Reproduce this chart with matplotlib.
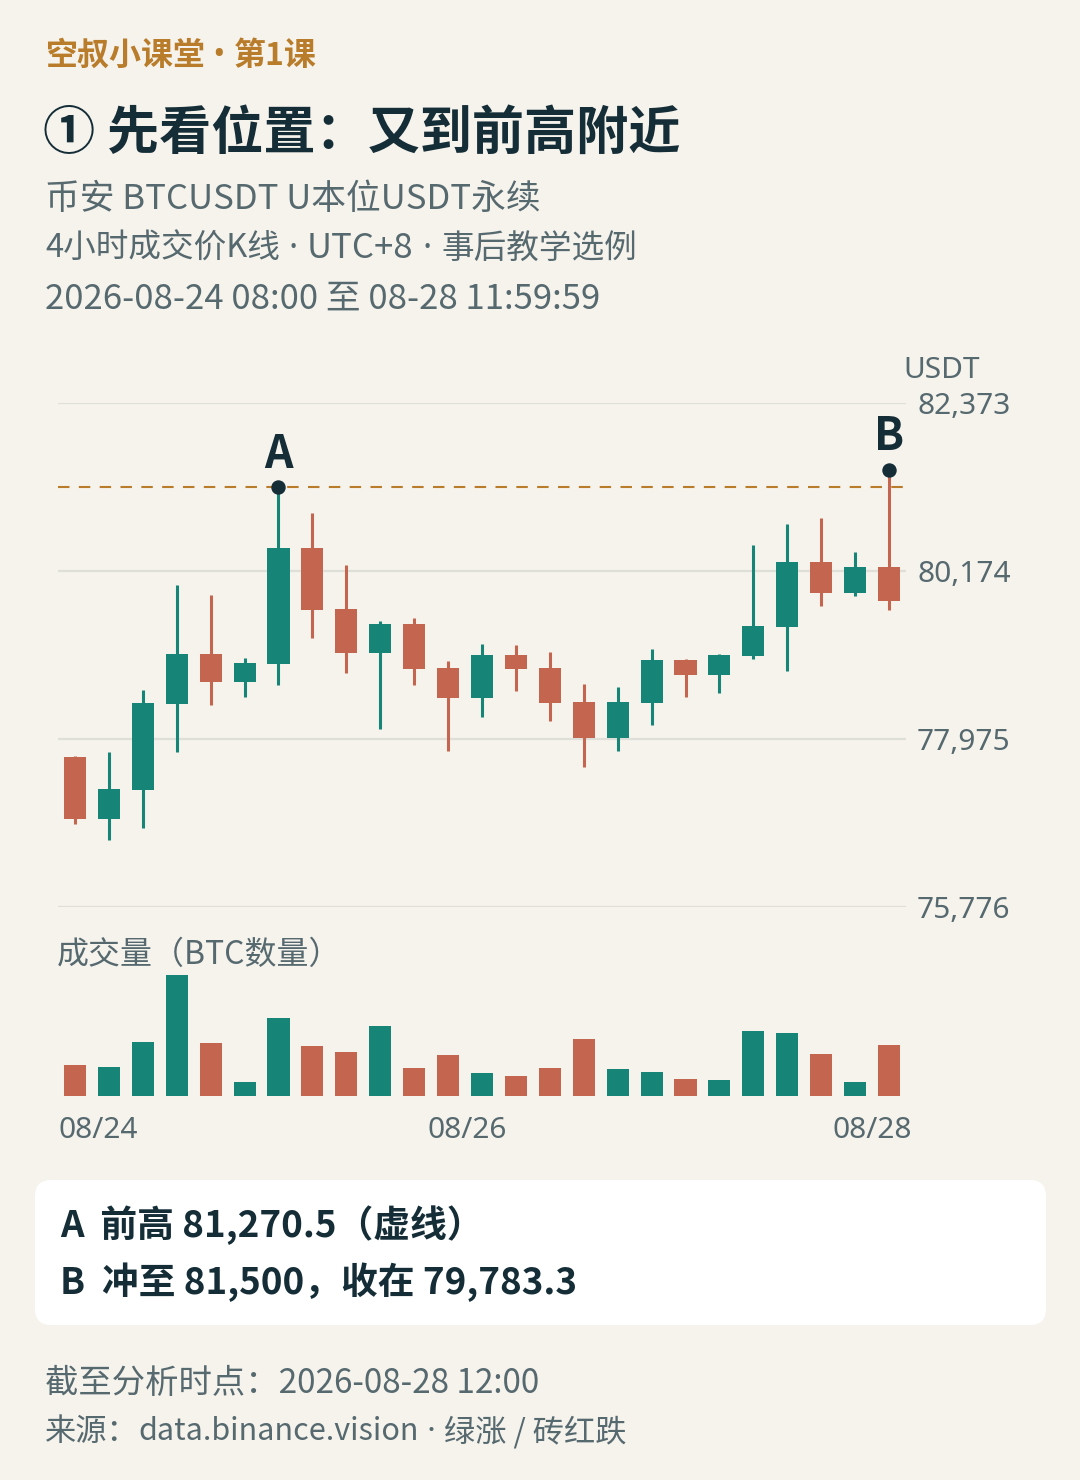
import matplotlib
matplotlib.use("Agg")
import matplotlib.pyplot as plt
from matplotlib.patches import FancyBboxPatch
from matplotlib.transforms import IdentityTransform, blended_transform_factory

plt.rcParams['font.family'] = ['Noto Sans CJK SC', 'DejaVu Sans']

# 4h candles, 2026-08-24 08:00 .. 2026-08-28 08:00 (UTC+8)
opens = [77740, 76928, 77308, 78433, 79088, 78721, 78957, 80475, 79677, 79101,
         79480, 78904, 78512, 79075, 78904, 78459, 77988, 78446, 79009, 78813,
         79062, 79441, 80292, 79886, 80226]
closes = [76928, 77321, 78446, 79088, 78721, 78970, 80475, 79664, 79101, 79480,
          78891, 78512, 79075, 78891, 78446, 77988, 78459, 79009, 78813, 79075,
          79454, 80292, 79886, 80226, 79783.3]
highs = [77753, 77805, 78616, 79991, 79860, 79035, 81270.5, 80933, 80253, 79520,
         79559, 78996, 79219, 79206, 79114, 78695, 78656, 79153, 79022, 79088,
         80514, 80789, 80868, 80423, 81500]
lows = [76862, 76653, 76810, 77805, 78420, 78525, 78682, 79297, 78839, 78106,
        78682, 77818, 78263, 78603, 78211, 77609, 77818, 78158, 78525, 78577,
        79022, 78865, 79716, 79847, 79664]
volumes = [5580, 5220, 9720, 21780, 9540, 2520, 14040, 9000, 7920, 12600,
           5040, 7380, 4140, 3600, 5040, 10260, 4860, 4320, 3060, 2880,
           11700, 11340, 7560, 2520, 9180]

y_ticks = [75776, 77975, 80174, 82373]
date_labels = ['08/24', '08/26', '08/28']
date_pos = [-0.5, 11.56, 24.68]
prev_high = 81270.5
idx_a = 6
idx_b = 24

BG = '#F6F3ED'
GREEN = '#168578'
RED = '#C4664F'
DARK = '#152D37'
GREY = '#56696F'
GOLD = '#B87C2A'
GRID = '#DDDFD8'
LATIN = ['Noto Sans', 'DejaVu Sans']
CJK = ['Noto Sans CJK SC', 'DejaVu Sans']

W, H = 1080, 1480
fig = plt.figure(figsize=(W / 100, H / 100), dpi=100, facecolor=BG)
renderer = fig.canvas.get_renderer()


def ftext(x, y, s, **kw):
    # place text using pixel coords measured from top-left
    return fig.text(x / W, 1 - y / H, s, **kw)


def ftext_parts(x, y, parts, **kw):
    # text pieces drawn one after another, each with its own family and size
    for s, fam, size in parts:
        t = ftext(x, y, s, family=fam, fontsize=size, **kw)
        x += t.get_window_extent(renderer).width


def rect(x0, y0, x1, y1):
    return [x0 / W, 1 - y1 / H, (x1 - x0) / W, (y1 - y0) / H]


# header
ftext_parts(45, 56, [('空叔小课堂', CJK, 23), (' • ', LATIN, 23), ('第1课', CJK, 23)],
            fontweight='bold', color=GOLD, va='center')
ftext(43, 133, '① 先看位置：又到前高附近', fontsize=37.5, fontweight='bold', color=DARK, va='center')
ftext(45, 200, '币安 BTCUSDT U本位USDT永续', fontsize=25, color=GREY, va='center')
ftext_parts(45, 249, [('4小时成交价K线', CJK, 23.5), (' · ', LATIN, 25), ('UTC+8', CJK, 25),
                      (' · ', LATIN, 25), ('事后教学选例', CJK, 23.5)], color=GREY, va='center')
ftext(45, 299, '2026-08-24 08:00 至 08-28 11:59:59', fontsize=25, color=GREY, va='center')

# price panel
ax = fig.add_axes(rect(58, 403, 906, 907))
ax.set_facecolor('none')
n = len(opens)
xs = list(range(n))
cols = [GREEN if c >= o else RED for o, c in zip(opens, closes)]
ax.vlines(xs, lows, highs, colors=cols, linewidth=2.2, zorder=2)
ax.bar(xs, [abs(c - o) for o, c in zip(opens, closes)], bottom=[min(o, c) for o, c in zip(opens, closes)],
       width=0.65, color=cols, zorder=3)
ax.axhline(prev_high, color=GOLD, linewidth=1.5, linestyle=(0, (5.5, 4.5)), zorder=4)
ax.scatter([idx_a, idx_b], [highs[idx_a], highs[idx_b]], s=88, color=DARK, zorder=5, clip_on=False)
for i, lab in [(idx_a, 'A'), (idx_b, 'B')]:
    ax.annotate(lab, (i, highs[i]), xytext=(0, 14), textcoords='offset points',
                fontsize=32, fontweight='bold', color=DARK, ha='center', va='baseline')

ax.set_xlim(-0.5, n - 0.5)
ax.set_ylim(y_ticks[0], y_ticks[-1])
ax.set_yticks(y_ticks)
ax.set_yticklabels([f'{v:,}' for v in y_ticks], fontsize=21.5, color=GREY, family=LATIN)
ax.yaxis.tick_right()
ax.tick_params(axis='y', length=0, pad=8)
ax.set_xticks([])
ax.grid(axis='y', color=GRID, linewidth=1.6, zorder=0)
ax.set_axisbelow(True)
for sp in ax.spines.values():
    sp.set_visible(False)
ftext(903, 370, 'USDT', fontsize=21.5, color=GREY, va='center', family=LATIN)

# volume panel
vax = fig.add_axes(rect(58, 975, 906, 1096))
vax.set_facecolor('none')
vax.bar(xs, volumes, width=0.65, color=cols)
vax.set_xlim(-0.5, n - 0.5)
vax.set_ylim(0, max(volumes))
vax.axis('off')
ftext(57, 955, '成交量（BTC数量）', fontsize=23, color=GREY, va='center')

tr = blended_transform_factory(vax.transData, fig.transFigure)
for p, lab in zip(date_pos, date_labels):
    ha = 'left' if p < 0 else ('right' if p > n - 1 else 'center')
    vax.text(p, 1 - 1131 / H, lab, transform=tr, fontsize=21.5, color=GREY, ha=ha, va='center',
             family=LATIN)

# note box
box = FancyBboxPatch((35, H - 1325), 1011, 145, boxstyle='round,pad=0,rounding_size=16',
                     transform=IdentityTransform(), facecolor='white', edgecolor='none')
fig.add_artist(box)
ftext(60, 1225, 'A  前高 81,270.5（虚线）', fontsize=26.5, fontweight='bold', color=DARK, va='center')
ftext(60, 1282, 'B  冲至 81,500，收在 79,783.3', fontsize=26.5, fontweight='bold', color=DARK, va='center')

# footer
ftext(45, 1383, '截至分析时点：2026-08-28 12:00', fontsize=24, color=GREY, va='center')
ftext_parts(45, 1432, [('来源：', CJK, 22.5), ('data.binance.vision', CJK, 22), (' · ', LATIN, 23),
                       ('绿涨 / 砖红跌', CJK, 22.5)], color=GREY, va='center')

fig.savefig('out.png', dpi=100, facecolor=BG)
